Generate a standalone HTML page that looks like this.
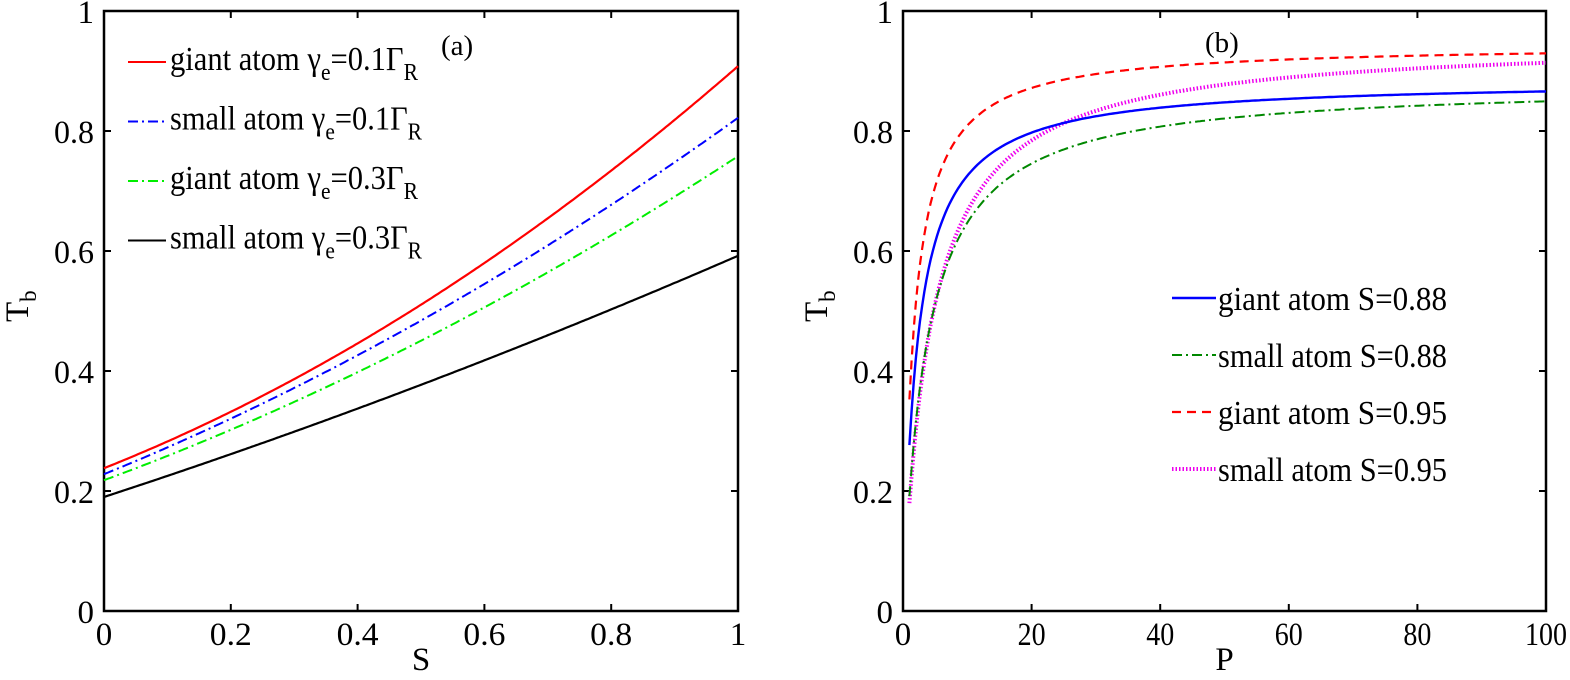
<!DOCTYPE html>
<html><head><meta charset="utf-8"><style>
body{margin:0;background:#fff}
text{font-family:"Liberation Serif","DejaVu Serif",serif}
</style></head><body>
<svg id="s" width="1570" height="675" xmlns="http://www.w3.org/2000/svg">
<g id="g"></g>
</svg>
<script>
var g=document.getElementById('g'),h='';
var F='';
function ax(x0,x1,xt,xl){
 var y0=611,y1=11;
 h+='<rect x="'+x0+'" y="'+y1+'" width="'+(x1-x0)+'" height="'+(y0-y1)+'" fill="none" stroke="#000" stroke-width="2.5"/>';
 for(var i=0;i<=5;i++){var y=y0-i*120;
  h+='<line x1="'+x0+'" y1="'+y+'" x2="'+(x0+7)+'" y2="'+y+'" stroke="#000" stroke-width="2"/><line x1="'+x1+'" y1="'+y+'" x2="'+(x1-7)+'" y2="'+y+'" stroke="#000" stroke-width="2"/>';
  var l=i==0?'0':i==5?'1':'0.'+(2*i);
  h+='<text'+F+' x="'+(x0-10)+'" y="'+(y+12)+'" font-size="33" text-anchor="end"'+(l.length>1?' textLength="40" lengthAdjust="spacingAndGlyphs"':'')+'>'+l+'</text>';}
 for(var i=0;i<xt.length;i++){var x=x0+i*(x1-x0)/(xt.length-1);
  h+='<line x1="'+x+'" y1="'+y0+'" x2="'+x+'" y2="'+(y0-7)+'" stroke="#000" stroke-width="2"/><line x1="'+x+'" y1="'+y1+'" x2="'+x+'" y2="'+(y1+7)+'" stroke="#000" stroke-width="2"/>';
  var tl=xt[i].length>1?' textLength="'+(xt[i].length*14)+'" lengthAdjust="spacingAndGlyphs"':'';
  h+='<text'+F+' x="'+(x-(xt[i].length>1?xt[i].length*7:0))+'" y="'+(y0+34)+'" font-size="33"'+(xt[i].length>1?'':' text-anchor="middle"')+tl+'>'+xt[i]+'</text>';}
 h+='<text'+F+' x="'+((x0+x1)/2)+'" y="670" font-size="33" text-anchor="middle">'+xl+'</text>';
 h+='<text'+F+' transform="translate('+(x0-76)+',322) rotate(-90)" font-size="33">T<tspan font-size="23" dy="8">b</tspan></text>';
}
ax(104,738,['0','0.2','0.4','0.6','0.8','1'],'S');
ax(903,1546,['0','20','40','60','80','100'],'P');
function path(f,a,b,X,col,w,da,x0,x1){var d='';for(var i=0;i<=300;i++){var t=a+(b-a)*i/300,v=f(t);
 d+=(i?'L':'M')+(x0+(t-X[0])/(X[1]-X[0])*(x1-x0)).toFixed(1)+' '+(611-v*600).toFixed(1);}
 h+='<path d="'+d+'" fill="none" stroke="'+col+'" stroke-width="'+w+'"'+(da?' stroke-dasharray="'+da+'"':'')+'/>';}
function q(a,b,c){return function(s){return a+b*s+c*s*s}}
path(q(0.238,0.42,0.25),0,1,[0,1],'#f00',2.2,'',104,738);
path(q(0.228,0.43,0.164),0,1,[0,1],'#00f',2,'10 4 2 4',104,738);
path(q(0.218,0.39,0.15),0,1,[0,1],'#0e0',2,'10 4 2 4',104,738);
path(q(0.19,0.346,0.056),0,1,[0,1],'#000',2.2,'',104,738);
function r(T,k,p){return function(P){return T*Math.pow(P,p)/(Math.pow(P,p)+Math.pow(k,p))}}
path(r(0.953,4.3,1),1,100,[0,100],'#e0e',4,'1.5 2',903,1546);
path(r(0.88,3.6,1),1,100,[0,100],'#080',2,'10 4 2 4',903,1546);
path(r(0.945,1.68,1),1,100,[0,100],'#f00',2.2,'9 6',903,1546);
path(r(0.885,2.2,1),1,100,[0,100],'#00f',2.4,'',903,1546);
var L=[['#f00','','giant atom','0.1'],['#00f','10 4 2 4','small atom','0.1'],['#0e0','10 4 2 4','giant atom','0.3'],['#000','','small atom','0.3']];
for(var i=0;i<4;i++){var y=62+i*119/2;
 h+='<line x1="128" y1="'+y+'" x2="166" y2="'+y+'" stroke="'+L[i][0]+'" stroke-width="2"'+(L[i][1]?' stroke-dasharray="'+L[i][1]+'"':'')+'/>';
 h+='<text x="170" y="'+(y+8)+'" font-size="34" textLength="'+(i%2?252:248)+'" lengthAdjust="spacingAndGlyphs">'+L[i][2]+' γ<tspan font-size="24" dy="10">e</tspan><tspan dy="-10">='+L[i][3]+'Γ</tspan><tspan font-size="24" dy="10">R</tspan></text>';}
h+='<text x="441" y="55" font-size="29">(a)</text><text x="1205" y="52" font-size="29">(b)</text>';
var R=[['#00f','','giant atom S=0.88',2.4],['#080','10 4 2 4','small atom S=0.88',2],['#f00','9 6','giant atom S=0.95',2.2],['#e0e','1.5 2','small atom S=0.95',4]];
for(var i=0;i<4;i++){var y=298+i*57;
 h+='<line x1="1172" y1="'+y+'" x2="1216" y2="'+y+'" stroke="'+R[i][0]+'" stroke-width="'+R[i][3]+'"'+(R[i][1]?' stroke-dasharray="'+R[i][1]+'"':'')+'/>';
 h+='<text x="1218" y="'+(y+12)+'" font-size="34" textLength="229" lengthAdjust="spacingAndGlyphs">'+R[i][2]+'</text>';}
g.innerHTML=h;
</script>
</body></html>
